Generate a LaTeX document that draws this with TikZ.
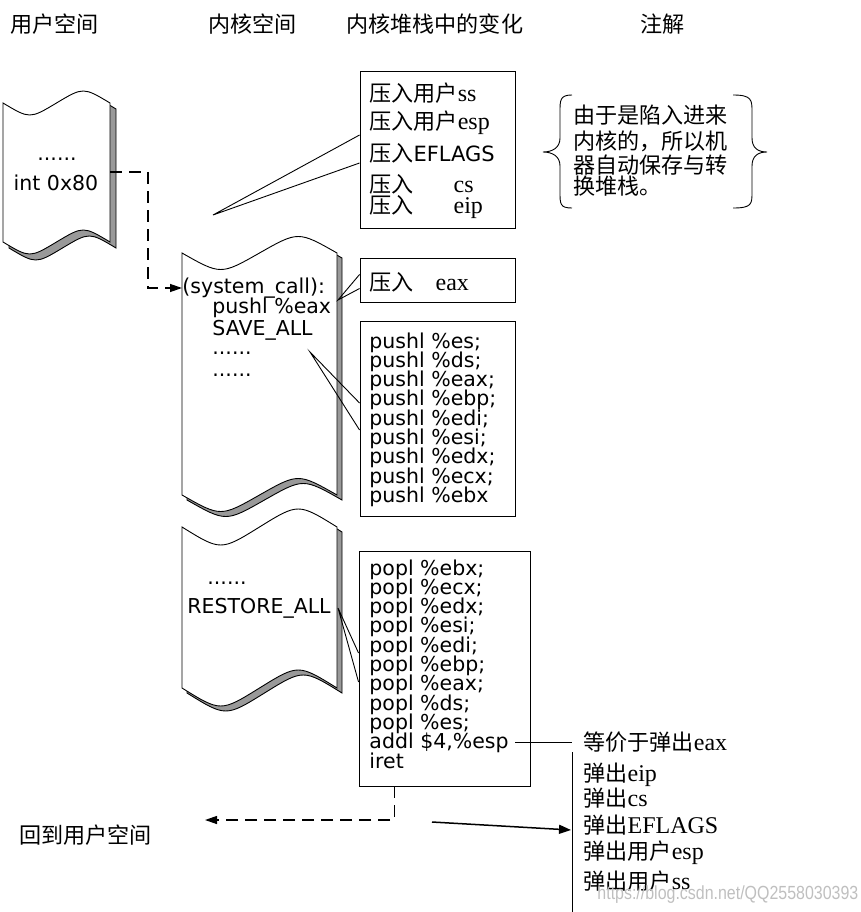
\documentclass[tikz,border=0pt]{standalone}
\usepackage{fontspec}
\usepackage{graphicx}
\setmainfont{Liberation Serif}
\setsansfont{DejaVu Sans}
\newfontfamily\cjk[Scale=0.92]{Noto Sans CJK SC}
\newfontfamily\wmfont{Liberation Sans}
\usetikzlibrary{arrows.meta}
\newcommand{\hz}[1]{{\cjk #1}}
\def\tapepath#1#2#3#4#5{({#1},{#3}) .. controls ({(#1)+((#2)-(#1))/4},{(#3)+2*(#5)}) .. ({((#1)+(#2))/2},{#3}) .. controls ({(#1)+3*((#2)-(#1))/4},{(#3)-2*(#5)}) .. ({#2},{#3}) -- ({#2},{#4}) .. controls ({(#1)+3*((#2)-(#1))/4},{(#4)-2*(#5)}) .. ({((#1)+(#2))/2},{#4}) .. controls ({(#1)+((#2)-(#1))/4},{(#4)+2*(#5)}) .. ({#1},{#4}) -- cycle}
\def\tapedoc(#1,#2,#3,#4,#5,#6){%
  \draw[fill=black!40] \tapepath{(#1)+(#6)}{(#2)+(#6)}{(#3)+(#6)}{(#4)+(#6)}{#5};
  \draw[fill=white] \tapepath{#1}{#2}{#3}{#4}{#5};}

\begin{document}
\begin{tikzpicture}[x=1pt, y=-1pt, line width=0.9pt,
    txt/.style={anchor=west, inner sep=0pt, font=\fontsize{24}{26}\selectfont},
    code/.style={anchor=west, inner sep=0pt, align=left, font={\sffamily\fontsize{20.5}{19.3}\selectfont\lineskiplimit=-20pt\lineskip=0pt\relax}},
    stackbox/.style={draw, rectangle, inner sep=0pt, minimum width=155pt},
    jump/.style={line width=1.3pt, dash pattern=on 12pt off 7pt, -{Triangle[length=12pt,width=8pt]}}]
			%%%%% START %%%%%
			\useasboundingbox (0,0) rectangle (861,912);
			
			\node[txt] (hUser) at (10,24) {\hz{用户空间}};
			\node[txt] (hKernel) at (208,24) {\hz{内核空间}};
			\node[txt] (hStack) at (346,24) {\hz{内核堆栈中的变化}};
			\node[txt] (hNote) at (640,24) {\hz{注解}};
			
			\tapedoc(3,110,103,242,8,6)
			\node[code, anchor=center] (uDots) at (57,159) {......};
			\node[code, anchor=center] (uInt) at (56,183) {int 0x80};
			\coordinate (uOut) at (110,172);
			
			\tapedoc(182,337,253,495,11,5)
			\node[code] (kCall) at (182,288) {(system\_call):};
			\node[code] (kPush) at (212,308) {pushl \%eax};
			\node[code] (kSave) at (212,330) {SAVE\_ALL};
			\node[code] (kDotsA) at (212,353) {......};
			\node[code] (kDotsB) at (212,375) {......};
			
			\tapedoc(182,337,527,688,12,5)
			\node[code] (rDots) at (207,583) {......};
			\node[code] (rRestore) at (187,608) {RESTORE\_ALL};
			
			\draw[jump] (uOut) -- ++(38,0) |- (kCall.west);
			
			\node[stackbox, minimum height=157pt] (boxA) at (437.5,150) {};
			\node[txt] (pSS) at (369,93) {\hz{压入用户}ss};
			\node[txt] (pESP) at (369,123) {\hz{压入用户}esp};
			\node[txt] (pFlags) at (369,153) {\hz{压入}{\sffamily\fontsize{21}{24}\selectfont EFLAGS}};
			\node[txt] (pCS) at (369,184) {\hz{压入}\hspace{40pt}cs};
			\node[txt] (pEIP) at (369,207) {\hz{压入}\hspace{40pt}eip};
			\coordinate (tipA) at (213,215);
			\draw ([yshift=15pt]boxA.west) -- (tipA) -- ([yshift=-13pt]boxA.west);
			
			\node[stackbox, minimum height=44pt] (boxB) at (437.5,280.5) {};
			\node[txt] (pEAX) at (369,282) {\hz{压入}\hspace{22pt}eax};
			\coordinate (tipB) at (338,300);
			\draw ([yshift=6pt]boxB.west) -- (tipB) -- ([yshift=-8pt]boxB.west);
			
			\node[stackbox, minimum height=195pt] (boxC) at (437.5,418.5) {};
			\node[code, anchor=north west] (saveList) at (369,332) {pushl \%es;\\pushl \%ds;\\pushl \%eax;\\pushl \%ebp;\\pushl \%edi;\\pushl \%esi;\\pushl \%edx;\\pushl \%ecx;\\pushl \%ebx};
			\coordinate (tipC) at (310,352);
			\draw ([yshift=15.5pt]boxC.west) -- (tipC) -- ([yshift=-11.5pt]boxC.west);
			
			\node[stackbox, minimum width=171pt, minimum height=235pt] (boxD) at (444.5,668.5) {};
			\node[code, anchor=north west] (restoreList) at (369,559) {popl \%ebx;\\popl \%ecx;\\popl \%edx;\\popl \%esi;\\popl \%edi;\\popl \%ebp;\\popl \%eax;\\popl \%ds;\\popl \%es;\\addl \$4,\%esp\\iret};
			\coordinate (tipD) at (338,608);
			\draw ([yshift=15.5pt]boxD.west) -- (tipD) -- ([yshift=-13.5pt]boxD.west);
			
			\node[txt] (nBrace) at (573,115) {\hz{由于是陷入进来}};
			\node[txt] (nBraceB) at (573,141) {\hz{内核的，所以机}};
			\node[txt] (nBraceC) at (573,165) {\hz{器自动保存与转}};
			\node[txt] (nBraceD) at (573,186) {\hz{换堆栈。}};
			\draw (572,95) .. controls (560,95) and (560,100) .. (560,112) -- (560,138) .. controls (560,148) and (552,152) .. (543,152) .. controls (552,152) and (560,156) .. (560,166) -- (560,192) .. controls (560,204) and (560,208) .. (572,208);
			\draw (733,95) .. controls (752,95) and (752,100) .. (752,112) -- (752,138) .. controls (752,148) and (758,152) .. (767,152) .. controls (758,152) and (752,156) .. (752,166) -- (752,192) .. controls (752,204) and (752,208) .. (733,208);
			
			\node[txt] (eqEAX) at (583,742) {\hz{等价于弹出}eax};
			\node[txt] (popEIP) at (583,775) {\hz{弹出}eip};
			\node[txt] (popCS) at (583,798) {\hz{弹出}cs};
			\node[txt] (popFlags) at (583,825) {\hz{弹出}EFLAGS};
			\node[txt] (popESP) at (583,853) {\hz{弹出用户}esp};
			\node[txt] (popSS) at (583,881) {\hz{弹出用户}ss};
			\draw (515,742) -- ([xshift=-11pt]eqEAX.west);
			\draw (572,752) -- (572,912);
			
			\node[txt] (back) at (19,835) {\hz{回到用户空间}};
			\coordinate (backTip) at (205,820);
			\draw[jump] ([xshift=-50pt]boxD.south) |- (backTip);
			
			\coordinate (popFrom) at (432,822);
			\coordinate (popTip) at (571,830);
			\draw[line width=1.5pt, -{Triangle[length=12pt,width=9pt]}] (popFrom) -- (popTip);
			
			\node[anchor=west, inner sep=0pt, text=black!25] (mark) at (597,895) {\scalebox{0.84}[1]{\wmfont\fontsize{19}{19}\selectfont https://blog.csdn.net/QQ2558030393}};
			
			%%%%% END %%%%%
		\end{tikzpicture}
\end{document}
